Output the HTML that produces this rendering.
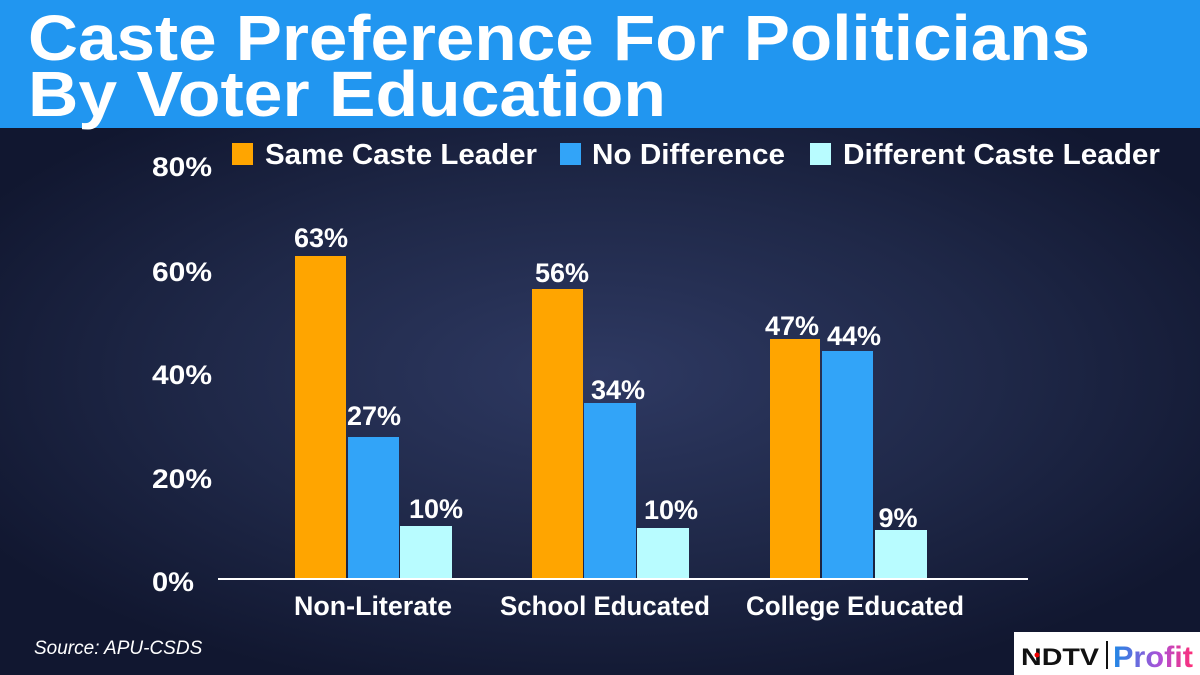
<!DOCTYPE html>
<html><head><meta charset="utf-8"><style>
html,body{margin:0;padding:0;width:1200px;height:675px;overflow:hidden;background:#131a33}
svg{display:block}
text{font-family:"Liberation Sans",sans-serif;font-weight:bold;fill:#fff}
</style></head><body>
<svg width="1200" height="675" viewBox="0 0 1200 675">
<defs>
<radialGradient id="bg" cx="0.5" cy="0.45" r="0.6">
<stop offset="0" stop-color="#2e3962"/>
<stop offset="0.55" stop-color="#1f2848"/>
<stop offset="1" stop-color="#111730"/>
</radialGradient>
<linearGradient id="pf" x1="0" x2="1"><stop offset="0" stop-color="#1e88e5"/><stop offset="0.6" stop-color="#b04fd6"/><stop offset="1" stop-color="#ff2d77"/></linearGradient>
</defs>
<rect x="0" y="128" width="1200" height="547" fill="url(#bg)"/>
<rect x="0" y="0" width="1200" height="128" fill="#2196f0"/>
<text x="28" y="60" font-size="64" textLength="1062" lengthAdjust="spacingAndGlyphs">Caste Preference For Politicians</text>
<text x="28" y="116" font-size="64" textLength="638" lengthAdjust="spacingAndGlyphs">By Voter Education</text>
<!-- legend -->
<rect x="232" y="143" width="21" height="22" fill="#ffa500"/>
<text x="265" y="164" font-size="29" textLength="272" lengthAdjust="spacingAndGlyphs">Same Caste Leader</text>
<rect x="560" y="143" width="21" height="22" fill="#32a4f8"/>
<text x="592" y="164" font-size="29" textLength="193" lengthAdjust="spacingAndGlyphs">No Difference</text>
<rect x="810" y="143" width="21" height="22" fill="#b8fcff"/>
<text x="843" y="164" font-size="29" textLength="317" lengthAdjust="spacingAndGlyphs">Different Caste Leader</text>
<!-- y ticks -->
<g font-size="27">
<text x="152" y="176" textLength="60" lengthAdjust="spacingAndGlyphs">80%</text>
<text x="152" y="281" textLength="60" lengthAdjust="spacingAndGlyphs">60%</text>
<text x="152" y="384" textLength="60" lengthAdjust="spacingAndGlyphs">40%</text>
<text x="152" y="488" textLength="60" lengthAdjust="spacingAndGlyphs">20%</text>
<text x="152" y="591" textLength="42" lengthAdjust="spacingAndGlyphs">0%</text>
</g>
<!-- bars -->
<g>
<rect x="295" y="256" width="51" height="324" fill="#ffa500"/>
<rect x="348" y="437" width="51" height="143" fill="#32a4f8"/>
<rect x="400" y="526" width="52" height="54" fill="#b8fcff"/>
<rect x="532" y="289" width="51" height="291" fill="#ffa500"/>
<rect x="584" y="403" width="52" height="177" fill="#32a4f8"/>
<rect x="637" y="528" width="52" height="52" fill="#b8fcff"/>
<rect x="770" y="339" width="50" height="241" fill="#ffa500"/>
<rect x="822" y="351" width="51" height="229" fill="#32a4f8"/>
<rect x="875" y="530" width="52" height="50" fill="#b8fcff"/>
</g>
<line x1="218" y1="579" x2="1028" y2="579" stroke="#fff" stroke-width="2"/>
<g font-size="27" text-anchor="middle">
<text x="321" y="247">63%</text>
<text x="374" y="425">27%</text>
<text x="436" y="518">10%</text>
<text x="562" y="282">56%</text>
<text x="618" y="399">34%</text>
<text x="671" y="519">10%</text>
<text x="792" y="335">47%</text>
<text x="854" y="345">44%</text>
<text x="898" y="527">9%</text>
</g>
<g font-size="27" text-anchor="middle">
<text x="373" y="615" textLength="158" lengthAdjust="spacingAndGlyphs">Non-Literate</text>
<text x="605" y="615" textLength="210" lengthAdjust="spacingAndGlyphs">School Educated</text>
<text x="855" y="615" textLength="218" lengthAdjust="spacingAndGlyphs">College Educated</text>
</g>
<text x="34" y="654" font-size="19" font-style="italic" style="font-weight:normal">Source: APU-CSDS</text>
<rect x="1014" y="632" width="186" height="43" fill="#fff"/>
<text x="1021" y="665" font-size="24" style="fill:#111;font-weight:900" textLength="78" lengthAdjust="spacingAndGlyphs">NDTV</text>
<circle cx="1037" cy="655" r="2.5" fill="#e00"/>
<rect x="1106" y="641" width="2" height="28" fill="#111"/>
<text x="1113" y="667" font-size="30" style="fill:url(#pf)" textLength="80" lengthAdjust="spacingAndGlyphs">Profit</text>
</svg>
</body></html>
